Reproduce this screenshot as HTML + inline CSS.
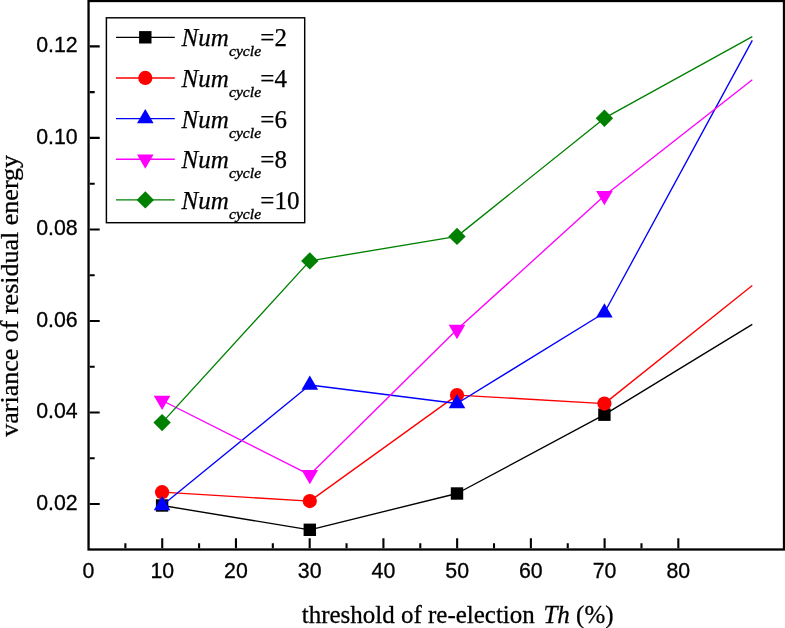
<!DOCTYPE html>
<html lang="en"><head><meta charset="utf-8"><title>variance of residual energy</title>
<style>
html,body{margin:0;padding:0;background:#fff;}
body{width:785px;height:628px;overflow:hidden;}
svg{display:block;}
.tk{font-family:"Liberation Sans",Arial,sans-serif;font-size:21.3px;fill:#000;stroke:#000;stroke-width:0.3px;}
.ax{font-family:"Liberation Serif","Times New Roman",serif;fill:#000;stroke:#000;stroke-width:0.28px;}
.lg{font-family:"Liberation Serif","Times New Roman",serif;font-size:25px;fill:#000;stroke:#000;stroke-width:0.25px;}
.it{font-style:italic;}
.sub{font-style:italic;font-size:15.6px;stroke-width:0.4px;}
</style></head><body>
<svg width="785" height="628" viewBox="0 0 785 628">
<rect x="0" y="0" width="785" height="628" fill="#ffffff"/>

<polyline points="162.10,505.50 309.80,529.80 457.00,493.50 604.40,414.70 752.30,324.40" fill="none" stroke="#000000" stroke-width="1.35" stroke-linejoin="round"/>
<rect x="155.90" y="499.30" width="12.40" height="12.40" fill="#000000"/>
<rect x="303.60" y="523.60" width="12.40" height="12.40" fill="#000000"/>
<rect x="450.80" y="487.30" width="12.40" height="12.40" fill="#000000"/>
<rect x="598.20" y="408.50" width="12.40" height="12.40" fill="#000000"/>
<polyline points="162.10,492.20 309.80,501.10 457.00,395.10 604.40,403.60 752.30,285.50" fill="none" stroke="#ff0000" stroke-width="1.35" stroke-linejoin="round"/>
<circle cx="162.10" cy="492.20" r="7.1" fill="#ff0000"/>
<circle cx="309.80" cy="501.10" r="7.1" fill="#ff0000"/>
<circle cx="457.00" cy="395.10" r="7.1" fill="#ff0000"/>
<circle cx="604.40" cy="403.60" r="7.1" fill="#ff0000"/>
<polyline points="162.10,505.50 309.80,385.00 457.00,403.50 604.40,312.80 752.30,40.40" fill="none" stroke="#0000ff" stroke-width="1.35" stroke-linejoin="round"/>
<polygon points="162.10,495.97 170.40,510.27 153.80,510.27" fill="#0000ff"/>
<polygon points="309.80,375.47 318.10,389.77 301.50,389.77" fill="#0000ff"/>
<polygon points="457.00,393.97 465.30,408.27 448.70,408.27" fill="#0000ff"/>
<polygon points="604.40,303.27 612.70,317.57 596.10,317.57" fill="#0000ff"/>
<polyline points="162.10,400.50 309.80,474.80 457.00,329.60 604.40,195.80 752.30,79.70" fill="none" stroke="#ff00ff" stroke-width="1.35" stroke-linejoin="round"/>
<polygon points="153.80,395.73 170.40,395.73 162.10,410.03" fill="#ff00ff"/>
<polygon points="301.50,470.03 318.10,470.03 309.80,484.33" fill="#ff00ff"/>
<polygon points="448.70,324.83 465.30,324.83 457.00,339.13" fill="#ff00ff"/>
<polygon points="596.10,191.03 612.70,191.03 604.40,205.33" fill="#ff00ff"/>
<polyline points="162.10,422.60 309.80,260.90 457.00,236.40 604.40,118.20 752.30,36.60" fill="none" stroke="#008000" stroke-width="1.35" stroke-linejoin="round"/>
<polygon points="162.10,413.90 170.80,422.60 162.10,431.30 153.40,422.60" fill="#008000"/>
<polygon points="309.80,252.20 318.50,260.90 309.80,269.60 301.10,260.90" fill="#008000"/>
<polygon points="457.00,227.70 465.70,236.40 457.00,245.10 448.30,236.40" fill="#008000"/>
<polygon points="604.40,109.50 613.10,118.20 604.40,126.90 595.70,118.20" fill="#008000"/>
<rect x="88.55" y="1.0" width="695.45" height="548.5" fill="none" stroke="#000" stroke-width="2.3"/>
<path d="M125.37,548.35v-5 M162.23,548.35v-10 M199.09,548.35v-5 M235.96,548.35v-10 M272.83,548.35v-5 M309.69,548.35v-10 M346.56,548.35v-5 M383.42,548.35v-10 M420.29,548.35v-5 M457.15,548.35v-10 M494.01,548.35v-5 M530.88,548.35v-10 M567.75,548.35v-5 M604.61,548.35v-10 M641.48,548.35v-5 M678.34,548.35v-10 M89.70,504.00h10 M89.70,458.24h5 M89.70,412.48h10 M89.70,366.72h5 M89.70,320.96h10 M89.70,275.20h5 M89.70,229.44h10 M89.70,183.68h5 M89.70,137.92h10 M89.70,92.16h5 M89.70,46.40h10" stroke="#000" stroke-width="2.1" fill="none"/>
<text class="tk" x="88.50" y="577.8" text-anchor="middle">0</text>
<text class="tk" x="162.23" y="577.8" text-anchor="middle">10</text>
<text class="tk" x="235.96" y="577.8" text-anchor="middle">20</text>
<text class="tk" x="309.69" y="577.8" text-anchor="middle">30</text>
<text class="tk" x="383.42" y="577.8" text-anchor="middle">40</text>
<text class="tk" x="457.15" y="577.8" text-anchor="middle">50</text>
<text class="tk" x="530.88" y="577.8" text-anchor="middle">60</text>
<text class="tk" x="604.61" y="577.8" text-anchor="middle">70</text>
<text class="tk" x="678.34" y="577.8" text-anchor="middle">80</text>
<text class="tk" x="77.6" y="509.90" text-anchor="end">0.02</text>
<text class="tk" x="77.6" y="418.38" text-anchor="end">0.04</text>
<text class="tk" x="77.6" y="326.86" text-anchor="end">0.06</text>
<text class="tk" x="77.6" y="235.34" text-anchor="end">0.08</text>
<text class="tk" x="77.6" y="143.82" text-anchor="end">0.10</text>
<text class="tk" x="77.6" y="52.30" text-anchor="end">0.12</text>
<text class="ax" transform="translate(301.7,622.8) scale(1,1.025)" x="0" y="0" font-size="25px">threshold of re-election <tspan class="it" dx="2.4">Th</tspan> (%)</text>
<text class="ax" font-size="26.03px" transform="translate(18.4,436.8) rotate(-90) scale(1,0.975)" x="0" y="0">variance of residual energy</text>
<rect x="106.4" y="17.8" width="198.3" height="204.9" fill="#fff" stroke="#000" stroke-width="1.45"/>
<line x1="116" y1="37.3" x2="174.8" y2="37.3" stroke="#000000" stroke-width="1.35"/>
<rect x="139.10" y="31.10" width="12.40" height="12.40" fill="#000000"/>
<text class="lg" y="46.20"><tspan class="it" x="181.6">Num</tspan><tspan class="sub" dx="0.2" dy="10.2">cycle</tspan><tspan dx="-0.7" dy="-10.2">=2</tspan></text>
<line x1="116" y1="77.95" x2="174.8" y2="77.95" stroke="#ff0000" stroke-width="1.35"/>
<circle cx="145.30" cy="77.95" r="7.1" fill="#ff0000"/>
<text class="lg" y="86.85"><tspan class="it" x="181.6">Num</tspan><tspan class="sub" dx="0.2" dy="10.2">cycle</tspan><tspan dx="-0.7" dy="-10.2">=4</tspan></text>
<line x1="116" y1="118.6" x2="174.8" y2="118.6" stroke="#0000ff" stroke-width="1.35"/>
<polygon points="145.30,109.07 153.60,123.37 137.00,123.37" fill="#0000ff"/>
<text class="lg" y="127.50"><tspan class="it" x="181.6">Num</tspan><tspan class="sub" dx="0.2" dy="10.2">cycle</tspan><tspan dx="-0.7" dy="-10.2">=6</tspan></text>
<line x1="116" y1="159.25" x2="174.8" y2="159.25" stroke="#ff00ff" stroke-width="1.35"/>
<polygon points="137.00,154.48 153.60,154.48 145.30,168.78" fill="#ff00ff"/>
<text class="lg" y="168.15"><tspan class="it" x="181.6">Num</tspan><tspan class="sub" dx="0.2" dy="10.2">cycle</tspan><tspan dx="-0.7" dy="-10.2">=8</tspan></text>
<line x1="116" y1="199.9" x2="174.8" y2="199.9" stroke="#008000" stroke-width="1.35"/>
<polygon points="145.30,191.20 154.00,199.90 145.30,208.60 136.60,199.90" fill="#008000"/>
<text class="lg" y="208.80"><tspan class="it" x="181.6">Num</tspan><tspan class="sub" dx="0.2" dy="10.2">cycle</tspan><tspan dx="-0.7" dy="-10.2">=10</tspan></text>
</svg></body></html>
